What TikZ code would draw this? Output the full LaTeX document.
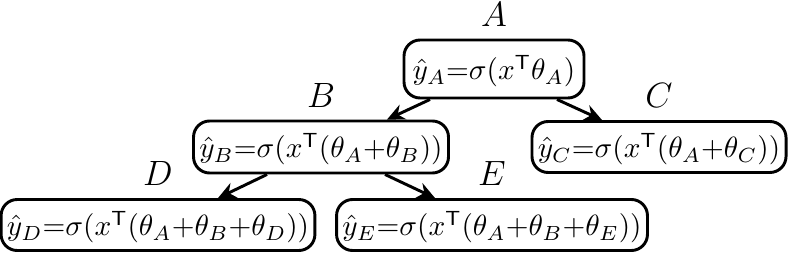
\documentclass[tikz,border=0pt]{standalone}
\usepackage{tikz}
\usetikzlibrary{arrows.meta, positioning}

\begin{document}
\begin{tikzpicture}[
        model/.style={rectangle, draw=black, line width=1pt, rounded corners=5.5pt, align=center, inner sep=2pt, text height=1em, text depth=0.25em},
        tag/.style={inner sep=1pt, font=\large},
        arrow/.style={-{Stealth[length=6pt, width=5.5pt]}, line width=1pt}
    ]
        \useasboundingbox (0,0) rectangle (9.528,3.072);

        % Nodes
        \node[model, minimum width=2.16cm, minimum height=0.696cm] (a) at (5.928,2.244) {$\hat{y}_A{=}\sigma(x^{\mathsf{T}}\theta_A)$};
        \node[model, minimum width=2.964cm, minimum height=0.624cm] (b) at (3.852,1.308) {$\hat{y}_B{=}\sigma(x^{\mathsf{T}}(\theta_A{+}\theta_B))$};
        \node[model, minimum width=3.024cm, minimum height=0.612cm] (c) at (7.908,1.308) {$\hat{y}_C{=}\sigma(x^{\mathsf{T}}(\theta_A{+}\theta_C))$};
        \node[model, minimum width=3.756cm, minimum height=0.612cm] (d) at (1.896,0.372) {$\hat{y}_D{=}\sigma(x^{\mathsf{T}}(\theta_A{+}\theta_B{+}\theta_D))$};
        \node[model, minimum width=3.684cm, minimum height=0.612cm] (e) at (5.904,0.372) {$\hat{y}_E{=}\sigma(x^{\mathsf{T}}(\theta_A{+}\theta_B{+}\theta_E))$};

        % Labels
        \node[tag, above=3pt of a] (a-tag) {$A$};
        \node[tag, above=3pt of b] (b-tag) {$B$};
        \node[tag, above=3pt of c] (c-tag) {$C$};
        \node[tag, above=3pt of d] (d-tag) {$D$};
        \node[tag, above=3pt of e] (e-tag) {$E$};

        % Connections
        \draw[arrow] ([xshift=-0.768cm]a.south) -- ([xshift=0.792cm]b.north);
        \draw[arrow] ([xshift=0.756cm]a.south) -- ([xshift=-0.684cm]c.north);
        \draw[arrow] ([xshift=-0.648cm]b.south) -- ([xshift=0.72cm]d.north);
        \draw[arrow] ([xshift=0.768cm]b.south) -- ([xshift=-0.684cm]e.north);

    \end{tikzpicture}
\end{document}
